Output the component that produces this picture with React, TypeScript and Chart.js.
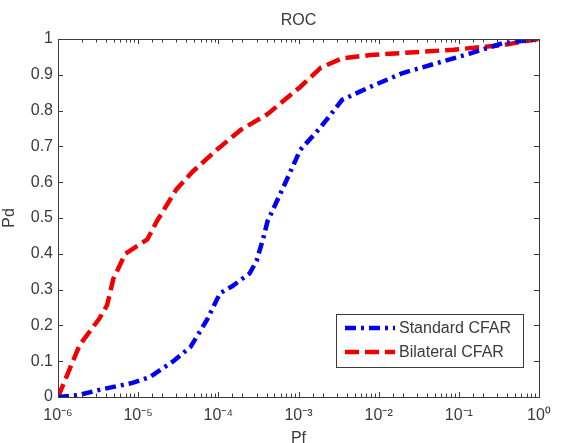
import React, { useEffect, useRef } from "react";
import { Chart, registerables } from "chart.js";

Chart.register(...registerables);

// ---- data ----
const standardPf = [1e-6, 1.86e-6, 3.3e-6, 8.7e-6, 1.4e-5, 2.75e-5, 4.5e-5, 7.2e-5, 1.05e-4, 1.5e-4, 2.45e-4, 3.0e-4, 3.6e-4, 4.1e-4, 6.5e-4, 1.05e-3, 1.9e-3, 3.5e-3, 7.8e-3, 2.0e-2, 5.4e-2, 0.14, 0.35, 1];
const standardPd = [0, 0.006, 0.02, 0.04, 0.056, 0.1, 0.14, 0.215, 0.29, 0.31, 0.345, 0.38, 0.44, 0.49, 0.587, 0.69, 0.754, 0.83, 0.866, 0.905, 0.933, 0.96, 0.988, 1];

const bilateralPf = [1e-6, 1.86e-6, 3.3e-6, 4.1e-6, 4.9e-6, 6.9e-6, 1.3e-5, 1.7e-5, 3.0e-5, 4.8e-5, 9.5e-5, 1.9e-4, 4.1e-4, 1.05e-3, 1.9e-3, 3.5e-3, 7.8e-3, 3.2e-2, 8.5e-2, 0.35, 1];
const bilateralPd = [0, 0.145, 0.22, 0.257, 0.33, 0.4, 0.44, 0.49, 0.58, 0.63, 0.69, 0.746, 0.79, 0.866, 0.92, 0.946, 0.955, 0.964, 0.97, 0.983, 1];

const seriesLabels = ["Standard CFAR", "Bilateral CFAR"];
const xTickValues = [1e-6, 1e-5, 1e-4, 1e-3, 1e-2, 1e-1, 1];
const xTickLabels = ["10⁻⁶", "10⁻⁵", "10⁻⁴", "10⁻³", "10⁻²", "10⁻¹", "10⁰"];
const yTickValues = [0, 0.1, 0.2, 0.3, 0.4, 0.5, 0.6, 0.7, 0.8, 0.9, 1];
const yTickLabels = ["0", "0.1", "0.2", "0.3", "0.4", "0.5", "0.6", "0.7", "0.8", "0.9", "1"];
const titleText = "ROC";
const xTitle = "Pf";
const yTitle = "Pd";

const FONT = "'Liberation Sans', Arial, Helvetica, sans-serif";
const TEXT = "#3a3a3a";
const AXIS = "#3a3a3a";

function majorIndex(v: number): number {
  for (let i = 0; i < xTickValues.length; i++) {
    if (Math.abs(Math.log10(v) - Math.log10(xTickValues[i])) < 1e-6) return i;
  }
  return -1;
}

function yLabel(v: number): string {
  for (let i = 0; i < yTickValues.length; i++) {
    if (Math.abs(v - yTickValues[i]) < 1e-6) return yTickLabels[i];
  }
  return "";
}

const framePlugin = {
  id: "matlabFrame",
  afterDatasetsDraw(chart: any) {
    const { ctx, chartArea, scales } = chart;
    const { left, right, top, bottom } = chartArea;
    ctx.save();
    ctx.strokeStyle = AXIS;
    ctx.lineWidth = 1;
    ctx.setLineDash([]);
    ctx.strokeRect(Math.round(left) + 0.5, Math.round(top) + 0.5, Math.round(right - left), Math.round(bottom - top));
    ctx.beginPath();
    const xs = scales.x;
    xs.ticks.forEach((t: any) => {
      const px = Math.round(xs.getPixelForValue(t.value)) + 0.5;
      const len = majorIndex(t.value) >= 0 ? 5 : 3.5;
      ctx.moveTo(px, bottom);
      ctx.lineTo(px, bottom - len);
      ctx.moveTo(px, top);
      ctx.lineTo(px, top + len);
    });
    const ys = scales.y;
    ys.ticks.forEach((t: any) => {
      const py = Math.round(ys.getPixelForValue(t.value)) + 0.5;
      ctx.moveTo(left, py);
      ctx.lineTo(left + 5, py);
      ctx.moveTo(right, py);
      ctx.lineTo(right - 5, py);
    });
    ctx.stroke();
    ctx.restore();
  },
  afterDraw(chart: any) {
    const { ctx, chartArea } = chart;
    const w = 187;
    const h = 53;
    const x0 = Math.round(chartArea.right - 16 - w);
    const y0 = Math.round(chartArea.bottom - 30 - h);
    ctx.save();
    ctx.fillStyle = "#ffffff";
    ctx.fillRect(x0, y0, w, h);
    ctx.strokeStyle = AXIS;
    ctx.lineWidth = 1;
    ctx.strokeRect(x0 + 0.5, y0 + 0.5, w, h);
    chart.data.datasets.forEach((ds: any, i: number) => {
      const y = y0 + 14 + i * 24;
      ctx.setLineDash(ds.borderDash || []);
      ctx.strokeStyle = ds.borderColor;
      ctx.lineWidth = ds.borderWidth;
      ctx.lineCap = "butt";
      ctx.beginPath();
      ctx.moveTo(x0 + 9, y);
      ctx.lineTo(x0 + 59, y);
      ctx.stroke();
      ctx.setLineDash([]);
      ctx.fillStyle = TEXT;
      ctx.font = `16px ${FONT}`;
      ctx.textAlign = "left";
      ctx.textBaseline = "middle";
      ctx.fillText(ds.label, x0 + 63, y + 1);
    });
    ctx.restore();
  },
};

export default function App() {
  const canvasRef = useRef<HTMLCanvasElement | null>(null);

  useEffect(() => {
    if (!canvasRef.current) return;
    Chart.defaults.font.family = FONT;
    Chart.defaults.color = TEXT;
    const chart = new Chart(canvasRef.current, {
      type: "line",
      data: {
        datasets: [
          {
            label: seriesLabels[0],
            data: standardPf.map((x, i) => ({ x, y: standardPd[i] })),
            borderColor: "#0000f0",
            borderWidth: 4.5,
            borderDash: [11, 5, 3, 5],
            borderCapStyle: "butt",
            pointRadius: 0,
            tension: 0,
            fill: false,
          },
          {
            label: seriesLabels[1],
            data: bilateralPf.map((x, i) => ({ x, y: bilateralPd[i] })),
            borderColor: "#f00000",
            borderWidth: 4.5,
            borderDash: [14, 6],
            borderCapStyle: "butt",
            pointRadius: 0,
            tension: 0,
            fill: false,
          },
        ],
      },
      options: {
        animation: false,
        responsive: true,
        maintainAspectRatio: false,
        parsing: false,
        layout: { padding: { left: 0, right: 31, top: 0, bottom: 0 } },
        plugins: {
          legend: { display: false },
          tooltip: { enabled: false },
          title: {
            display: true,
            text: titleText,
            fullSize: false,
            color: TEXT,
            font: { size: 16, weight: "normal", family: FONT },
            padding: { top: 11, bottom: 8.8 },
          },
        },
        scales: {
          x: {
            type: "logarithmic",
            min: 1e-6,
            max: 1,
            grid: { display: false, drawTicks: false },
            border: { display: false },
            ticks: {
              autoSkip: false,
              maxRotation: 0,
              minRotation: 0,
              padding: 9,
              color: TEXT,
              font: { size: 16, family: FONT },
              callback: (v: any) => {
                const i = majorIndex(Number(v));
                return i >= 0 ? xTickLabels[i] : "";
              },
            },
            title: {
              display: true,
              text: xTitle,
              color: TEXT,
              font: { size: 16, family: FONT },
              padding: { top: 0, bottom: -5 },
            },
            afterFit: (s: any) => {
              s.height = 46;
            },
          },
          y: {
            type: "linear",
            min: 0,
            max: 1,
            grid: { display: false, drawTicks: false },
            border: { display: false },
            ticks: {
              stepSize: 0.1,
              padding: 5,
              color: TEXT,
              font: { size: 16, family: FONT },
              callback: (v: any) => yLabel(Number(v)),
            },
            title: {
              display: true,
              text: yTitle,
              color: TEXT,
              font: { size: 16, family: FONT },
              padding: { top: 0, bottom: 0 },
            },
            afterFit: (s: any) => {
              s.width = 58;
            },
          },
        },
      },
      plugins: [framePlugin],
    } as any);
    return () => chart.destroy();
  }, []);

  return (
    <div style={{ position: "fixed", left: 0, top: 0, width: 570, height: 443, background: "#fff" }}>
      <canvas ref={canvasRef} />
    </div>
  );
}
